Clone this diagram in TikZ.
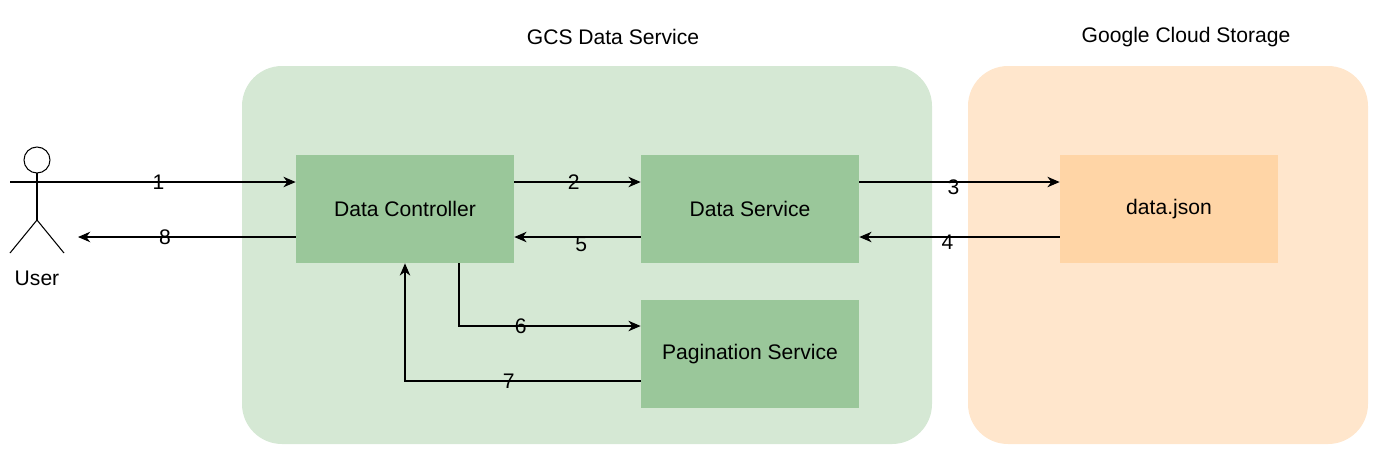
\documentclass[tikz,border=0pt]{standalone}
\usepackage{fontspec}
\setmainfont{Liberation Sans}
\usetikzlibrary{arrows.meta}
\definecolor{grnbg}{HTML}{D5E8D4}
\definecolor{grnbox}{HTML}{9AC79A}
\definecolor{orgbg}{HTML}{FFE6CC}
\definecolor{orgbox}{HTML}{FFD5A6}
\begin{document}
\begin{tikzpicture}[x=0.02cm, y=-0.02cm,
  every node/.style={font=\fontsize{12}{14}\selectfont},
  box/.style={draw=none, minimum width=218*0.02cm, minimum height=108*0.02cm},
  arr/.style={-{Stealth[length=7pt,width=6pt]}, line width=0.6pt},
  lbl/.style={inner sep=0pt}]
  \useasboundingbox (0,0) rectangle (1384,458);
  \fill[grnbg, rounded corners=0.8cm] (242,66) rectangle (932,444);
  \fill[orgbg, rounded corners=0.8cm] (968,66) rectangle (1368,444);
  \node (t1) at (613,37) {GCS Data Service};
  \node (t2) at (1186,37) {Google Cloud Storage};

  \node[box, fill=grnbox] (dc) at (405,209) {Data Controller};
  \node[box, fill=grnbox] (ds) at (750,209) {Data Service};
  \node[box, fill=grnbox] (ps) at (750,354) {Pagination Service};
  \node[box, fill=orgbox] (dj) at (1169,209) {data.json};

  % actor
  \begin{scope}[line width=0.6pt]
    \draw (37,160) circle[radius=13*0.02cm];
    \draw (37,173) -- (37,220);
    \draw (37,220) -- (10,253);
    \draw (37,220) -- (64,253);
  \end{scope}
  \coordinate (arm) at (10,182);
  \coordinate (usr) at (78,237);
  \node (u) at (37,278) {User};

  \draw[arr] (arm) -- node[lbl, pos=0.52] {1} (dc.west |- arm);
  \draw[arr] (dc.west |- usr) -- node[lbl, pos=0.6] {8} (usr);
  \draw[arr] ([yshift=27*0.02cm]dc.east) -- node[lbl, pos=0.47] {2} ([yshift=27*0.02cm]ds.west);
  \draw[arr] ([yshift=-28*0.02cm]ds.west) -- node[lbl, pos=0.47, yshift=-4pt] {5} ([yshift=-28*0.02cm]dc.east);
  \draw[arr] ([yshift=27*0.02cm]ds.east) -- node[lbl, pos=0.47, yshift=-3pt] {3} ([yshift=27*0.02cm]dj.west);
  \draw[arr] ([yshift=-28*0.02cm]dj.west) -- node[lbl, pos=0.56, yshift=-3pt] {4} ([yshift=-28*0.02cm]ds.east);
  \draw[arr] (dc.south -| 459,0) |- node[lbl, pos=0.67] {6} ([yshift=28*0.02cm]ps.west);
  \draw[arr] ([yshift=-27*0.02cm]ps.west) -| node[lbl, pos=0.28] {7} (dc.south);
\end{tikzpicture}
\end{document}
